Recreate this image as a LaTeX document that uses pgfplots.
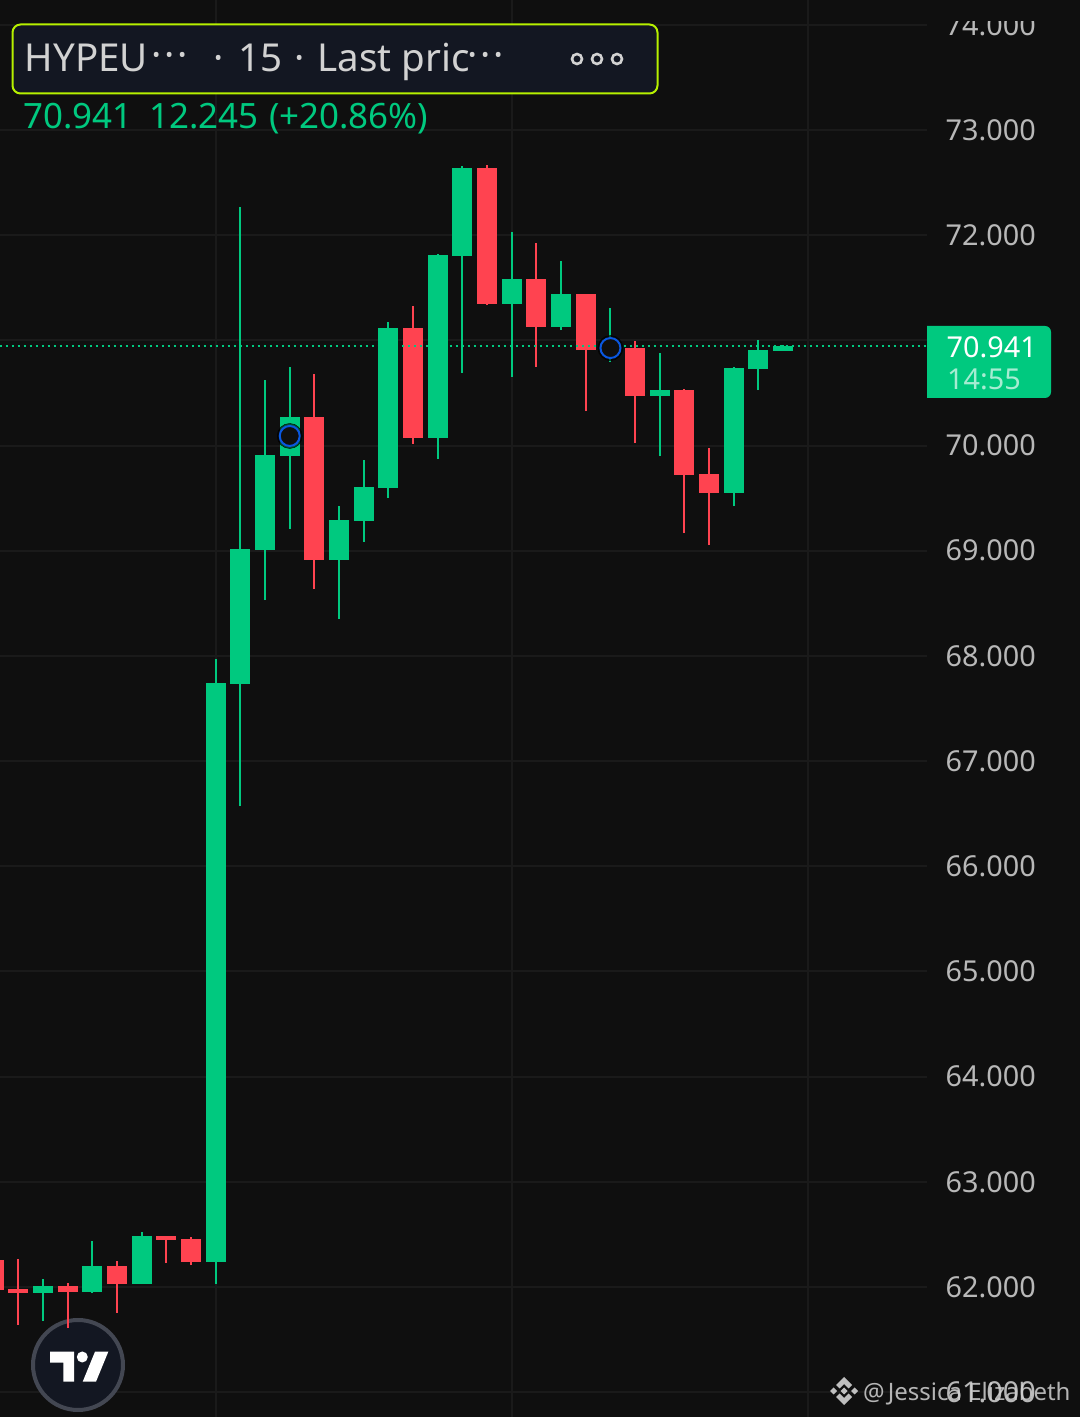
\documentclass[border=0pt]{standalone}
\usepackage{fontspec}
\setmainfont{Noto Sans}
\usepackage{pgfplots}
\usepackage{pgfplotstable}
\pgfplotsset{compat=1.18}
\definecolor{bg}{HTML}{0F0F0F}
\definecolor{gridc}{HTML}{1A1A1A}
\definecolor{upc}{HTML}{00C97F}
\definecolor{downc}{HTML}{FF4350}
\definecolor{bluec}{HTML}{0A57E0}
\definecolor{labelc}{HTML}{B8B8B8}
\definecolor{headc}{HTML}{131722}
\definecolor{headline}{HTML}{B6F000}
\definecolor{headtext}{HTML}{D2D2D2}
\definecolor{ringc}{HTML}{434752}

% candle index, body top, body bottom, high, low
\pgfplotstableread{
x top bot high low
-7 62.009 61.943 62.076 61.677
-5 62.199 61.952 62.437 61.943
-3 62.485 62.028 62.523 62.028
0 67.742 62.237 67.971 62.028
1 69.016 67.733 72.268 66.573
2 69.910 69.007 70.623 68.531
3 70.271 69.901 70.747 69.206
5 69.292 68.912 69.425 68.351
6 69.606 69.283 69.863 69.083
7 71.118 69.596 71.175 69.501
9 71.812 70.072 71.821 69.872
10 72.639 71.802 72.658 70.690
12 71.583 71.346 72.030 70.652
14 71.441 71.127 71.755 71.098
16 70.927 70.908 71.308 70.794
18 70.528 70.471 70.880 69.901
21 70.737 69.549 70.747 69.425
22 70.908 70.728 71.003 70.528
23 70.946 70.899 70.956 70.899
}\upcandles
\pgfplotstableread{
x top bot high low
-9 62.257 61.971 62.257 61.971
-8 61.981 61.943 62.266 61.639
-6 62.009 61.952 62.038 61.610
-4 62.199 62.028 62.247 61.753
-2 62.485 62.447 62.485 62.228
-1 62.456 62.237 62.475 62.209
4 70.271 68.912 70.680 68.636
8 71.118 70.072 71.327 70.015
11 72.639 71.346 72.667 71.336
13 71.583 71.127 71.926 70.747
15 71.441 70.908 71.441 70.328
17 70.927 70.471 70.994 70.024
19 70.528 69.720 70.538 69.168
20 69.729 69.549 69.977 69.054
}\downcandles

\pgfplotsset{
  wicks/.style={no marks, draw=none, forget plot,
    error bars/.cd, y dir=plus, y explicit, error mark=none,
    error bar style={line width=2pt, draw=#1, solid}},
  bodies/.style={no marks, draw=none, forget plot,
    error bars/.cd, y dir=plus, y explicit, error mark=none,
    error bar style={line width=20pt, draw=#1, solid}},
}

\begin{document}
\begin{tikzpicture}
\useasboundingbox (0,0) rectangle (1080pt,1417pt);
\fill[bg] (0,0) rectangle (1080pt,1417pt);
\begin{axis}[
    at={(0,0)}, anchor=south west,
    scale only axis, width=927pt, height=1417pt,
    xmin=-8.744, xmax=28.832,
    ymin=60.764, ymax=74.236,
    axis line style={draw=none},
    major tick length=0pt,
    xtick={0,12,24}, xticklabels={},
    % 71.000 sits under the price tag, so it only gets a grid line
    ytick={61,62,63,64,65,66,67,68,69,70,72,73,74},
    extra y ticks={71}, extra y tick labels={},
    yticklabel pos=right,
    grid=major,
    grid style={line width=2pt, color=gridc},
    yticklabel style={
        /pgf/number format/fixed,
        /pgf/number format/fixed zerofill,
        /pgf/number format/precision=3,
        /pgf/number format/assume math mode=true,
        font=\fontsize{28.8}{30}\selectfont, text=labelc,
        anchor=east, inner sep=0pt, xshift=109pt},
]
% logo disc sits over the grid but under the candles
\draw[ringc, fill=headc, line width=4pt] (rel axis cs:0.08414,0.03670) circle (45pt);
\addplot[wicks=upc] table[x=x, y=low, y error plus expr=\thisrow{high}-\thisrow{low}] {\upcandles};
\addplot[wicks=downc] table[x=x, y=low, y error plus expr=\thisrow{high}-\thisrow{low}] {\downcandles};
\addplot[bodies=upc] table[x=x, y=bot, y error plus expr=\thisrow{top}-\thisrow{bot}] {\upcandles};
\addplot[bodies=downc] table[x=x, y=bot, y error plus expr=\thisrow{top}-\thisrow{bot}] {\downcandles};
% last price line
\addplot[upc, line width=2pt, dash pattern=on 2pt off 4pt, forget plot] coordinates {(-9,70.946) (29,70.946)};
% blue markers
\addplot[only marks, mark=*, mark size=12.5pt, mark options={draw=none, fill=black, fill opacity=0.6}, forget plot] coordinates {(3,70.091) (16,70.927)};
\addplot[only marks, mark=*, mark size=10pt, mark options={draw=bluec, fill=bg, line width=2pt}, forget plot] coordinates {(3,70.091) (16,70.927)};
\end{axis}

\begin{scope}[shift={(0,1417pt)}, x=1pt, y=-1pt, every node/.style={inner sep=0pt, anchor=base west}]
  % top label is cut by the chart edge
  \fill[bg] (930,0) rectangle (1080,21.5);
  % symbol box
  \draw[headline, fill=headc, line width=2pt, rounded corners=8pt] (12.5,24.5) rectangle (657.5,93.5);
  \begin{scope}[every node/.append style={text=headtext, font=\fontsize{38.5}{40}\selectfont}]
    \node at (24.5,72) {HYPEU};
    \node at (151,69) {·\kern2.6pt·\kern2.6pt·};
    \node at (213,72) {·};
    \node at (238,72) {15};
    \node at (294,72) {·};
    \node at (317.5,72) {Last pric};
    \node at (467,69) {·\kern2.6pt·\kern2.6pt·};
  \end{scope}
  \foreach \cx in {577,597,617}
    \draw[headtext, line width=2.6pt] (\cx,59) circle (5pt);
  \begin{scope}[every node/.append style={text=upc, font=\fontsize{34.9}{36}\selectfont}]
    \node at (23,129) {70.941};
    \node at (149,129) {12.245};
    \node at (269,129) {(+20.86\%)};
  \end{scope}
  % price tag
  \fill[upc] (927,326) -- (1045,326) arc[start angle=90, end angle=0, radius=6pt] -- (1051,392) arc[start angle=0, end angle=-90, radius=6pt] -- (927,398) -- cycle;
  \node[text=white, font=\fontsize{28.8}{30}\selectfont] at (946.5,358) {70.941};
  \node[text=white!65!upc, font=\fontsize{28.8}{30}\selectfont] at (947,390) {14:55};
  % logo mark
  \fill[white] (50,1351.7) -- (74,1351.7) -- (74,1381.7) -- (63.3,1381.7) -- (63.3,1362.7) -- (50,1362.7) -- cycle;
  \fill[white] (82.3,1357) circle (5.5pt);
  \fill[white] (95,1351.7) -- (108.3,1351.7) -- (96,1381.7) -- (82.7,1381.7) -- cycle;
  % watermark
  \node[text=headtext, opacity=0.85, font=\fontsize{24}{26}\selectfont] at (863,1400.5) {@\kern3pt Jessica Elizabeth};
  \begin{scope}[headtext, opacity=0.9]
    \fill (830,1391) -- (833.5,1387.5) -- (837,1391) -- (833.5,1394.5) -- cycle;
    \fill (851,1391) -- (854.5,1387.5) -- (858,1391) -- (854.5,1394.5) -- cycle;
    \fill (844,1377) -- (852,1385) -- (848.5,1388.5) -- (844,1384) -- (839.5,1388.5) -- (836,1385) -- cycle;
    \fill (844,1405) -- (852,1397) -- (848.5,1393.5) -- (844,1398) -- (839.5,1393.5) -- (836,1397) -- cycle;
    \fill (844,1387.5) -- (847.5,1391) -- (844,1394.5) -- (840.5,1391) -- cycle;
  \end{scope}
\end{scope}
\end{tikzpicture}
\end{document}
